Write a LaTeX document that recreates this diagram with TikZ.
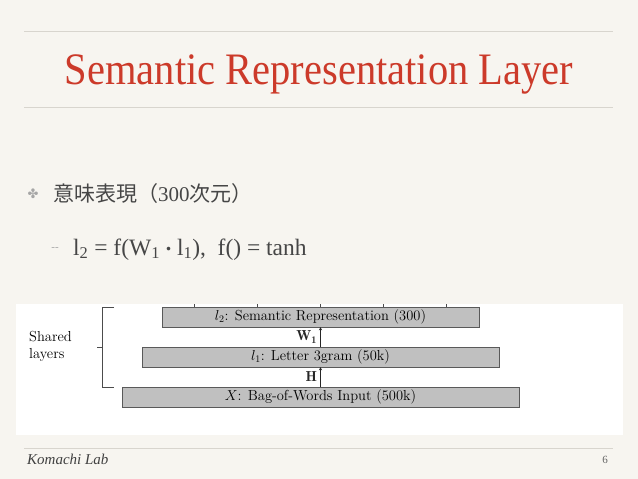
\documentclass[tikz,border=0pt]{standalone}
\usepackage{fontspec}
\usepackage{xcolor}
\usepackage{tikz}
\usetikzlibrary{shapes,arrows,positioning}
\newfontfamily\slidefont{Liberation Serif}
\newfontfamily\cjk{Noto Sans CJK JP}
\newfontfamily\symfont{DejaVu Sans}
\definecolor{slidebg}{RGB}{247, 245, 240}
\definecolor{rulecolor}{RGB}{216, 213, 206}
\definecolor{titlecolor}{RGB}{204, 58, 42}
\definecolor{textcolor}{RGB}{70, 70, 70}
\definecolor{layerfill}{RGB}{192, 192, 192}

\begin{document}
\begin{tikzpicture}[x=1pt, y=-1pt]
    % Define styles
    \tikzstyle{layer} = [rectangle, minimum height=20pt, inner sep=0pt, text centered, draw=black!65, fill=layerfill, font=\fontsize{14.5}{16}\selectfont]
    \tikzstyle{arrow} = [thin,->,>=stealth, black!85]
    \tikzstyle{slidetext} = [anchor=base west, inner sep=0pt, text=textcolor]

    % Slide background and rules
    \useasboundingbox (0,0) rectangle (638,479);
    \fill[slidebg] (0,0) rectangle (638,479);
    \draw[rulecolor, thick] (24,31) -- (613,31);
    \draw[rulecolor, thick] (24,107) -- (613,107);
    \draw[rulecolor, thick] (24,448) -- (613,448);

    % Title
    \node [anchor=base, inner sep=0pt, text=titlecolor, font=\slidefont\fontsize{45}{50}\selectfont] (title) at (319,84) {\scalebox{0.9}[1]{Semantic Representation Layer}};

    % Bullet points
    \node [text=black!35, font=\symfont\fontsize{13}{14}\selectfont] (bullet) at (33,194) {✤};
    \node [slidetext, font=\fontsize{21}{24}\selectfont] (point) at (53,201) {{\cjk 意味表現（}{\slidefont 300}{\cjk 次元）}};
    \node [text=black!35, font=\slidefont\fontsize{11}{12}\selectfont] (dash) at (55,249) {--};
    \node [slidetext, font=\slidefont\fontsize{23.5}{26}\selectfont] (formula) at (73,255) {l\textsubscript{2} = f(W\textsubscript{1}{\cjk\fontsize{17}{20}\selectfont ・}l\textsubscript{1}),~ f() = tanh};

    % Figure panel
    \fill[white] (16,304) rectangle (623,435);
    \node [layer, minimum width=317pt] (l2box) at (320.5,317) {$l_2$: Semantic Representation (300)};
    \node [layer, minimum width=357pt] (l1box) at (320.5,357) {$l_1$: Letter 3gram (50k)};
    \node [layer, minimum width=397pt] (xbox) at (320.5,397) {$X$: Bag-of-Words Input (500k)};

    % Arrows between layers
    \draw [arrow] (l1box.north) -- node [left, font=\fontsize{14.5}{16}\selectfont] {$\mathbf{W_1}$} (l2box.south);
    \draw [arrow] (xbox.north) -- node [left, font=\fontsize{14.5}{16}\selectfont] {$\mathbf{H}$} (l1box.south);
    \foreach \dx in {-126,-63,0,63,126}
        \draw [black!70] ([xshift=\dx pt]l2box.north) -- ++(0,-3);

    % Bracket for shared layers
    \draw [black!70] (114,307) -- (102,307) -- (102,387) -- (114,387);
    \draw [black!70] (102,347) -- (97,347);
    \node [anchor=west, align=left, inner sep=0pt, font=\fontsize{14.5}{17}\selectfont] (shared) at (29,346) {Shared\\layers};

    % Footer
    \node [slidetext, text=black!75, font=\slidefont\itshape\fontsize{15}{18}\selectfont] (lab) at (27,464) {Komachi Lab};
    \node [anchor=base, inner sep=0pt, text=black!60, font=\slidefont\fontsize{11}{12}\selectfont] (page) at (605,463) {6};
\end{tikzpicture}
\end{document}
